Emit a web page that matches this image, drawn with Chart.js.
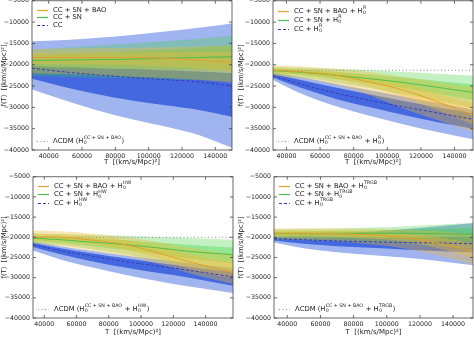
<!DOCTYPE html>
<html>
<head>
<meta charset="utf-8">
<script src="https://cdn.jsdelivr.net/npm/chart.js@4.4.1/dist/chart.umd.min.js"></script>
<style>
    html, body { margin: 0; padding: 0; background: #fff; overflow: hidden; }
    body { width: 474px; height: 340px; position: relative; }
    canvas { position: absolute; }
</style>
</head>
<body>
<canvas id="p1" width="236" height="174" style="left:0;top:-6px"></canvas>
<canvas id="p2" width="237" height="174" style="left:237px;top:-6px"></canvas>
<canvas id="p3" width="236" height="170" style="left:0;top:170px"></canvas>
<canvas id="p4" width="237" height="170" style="left:237px;top:170px"></canvas>
<script>
// ---- axis ticks ----
const yTicks = [-5000, -10000, -15000, -20000, -25000, -30000, -35000, -40000];
const xTicks = [40000, 60000, 80000, 100000, 120000, 140000];

// ---- T grid for each panel (first/last = axis limits) ----
const T1 = [30000, 50000, 70000, 90000, 110000, 130000, 150000];
const T2 = [32000, 50000, 70000, 90000, 110000, 130000, 151000];
const T3 = [33000, 50000, 70000, 90000, 110000, 130000, 157000];
const T4 = [32000, 50000, 70000, 90000, 110000, 130000, 152000];

// ---- panel 1: CC, CC + SN, CC + SN + BAO ----
const cc1Mean = [-20800, -21700, -22400, -23000, -23500, -24000, -25000];
const cc1Hi1  = [-20300, -20500, -20800, -21000, -21300, -21600, -22000];
const cc1Lo1  = [-23300, -25300, -27000, -28400, -29500, -30600, -32200];
const cc1Hi2  = [-14500, -14200, -13700, -13000, -12200, -11300, -10300];
const cc1Lo2  = [-25800, -28400, -30800, -32800, -34500, -36500, -39500];
const sn1Mean = [-19000, -18900, -18800, -18700, -18500, -18300, -18100];
const sn1Hi1  = [-17700, -17400, -17100, -16800, -16400, -16000, -15500];
const sn1Lo1  = [-20700, -20800, -20900, -21000, -21100, -21200, -21300];
const sn1Hi2  = [-16500, -16000, -15500, -15000, -14500, -13900, -13200];
const sn1Lo2  = [-22500, -22800, -23000, -23200, -23400, -23600, -23800];
const bao1Mean = [-18300, -18300, -18300, -18300, -18500, -18900, -19500];
const bao1Hi1  = [-17300, -17200, -17100, -17100, -17000, -17000, -17000];
const bao1Lo1  = [-19800, -19900, -20000, -20200, -20500, -20900, -21500];
const bao1Hi2  = [-16300, -16200, -16100, -16000, -15900, -15700, -15500];
const bao1Lo2  = [-22000, -22200, -22500, -22800, -23100, -23500, -24200];
const lcdm1 = -18300;

// ---- panel 2: + H0^R ----
const cc2Mean = [-22600, -24700, -26700, -28400, -29900, -31300, -32800];
const cc2Hi1  = [-22200, -23700, -25400, -27000, -28500, -30000, -31400];
const cc2Lo1  = [-23000, -25600, -28100, -30000, -31800, -33500, -35000];
const cc2Hi2  = [-21800, -23000, -24500, -26000, -27500, -29000, -30500];
const cc2Lo2  = [-23600, -27000, -29800, -32000, -34000, -35800, -37500];
const sn2Mean = [-21400, -21800, -22500, -23300, -24200, -25300, -26500];
const sn2Hi1  = [-20900, -21200, -21700, -22300, -23000, -23800, -24600];
const sn2Lo1  = [-21900, -22400, -23400, -24400, -25500, -26800, -28300];
const sn2Hi2  = [-20500, -20700, -21000, -21300, -21700, -22100, -22600];
const sn2Lo2  = [-22300, -23000, -24200, -25500, -27000, -28500, -30200];
const bao2Mean = [-21300, -21700, -22500, -24100, -26000, -28700, -31800];
const bao2Hi1  = [-20800, -21100, -21700, -22900, -24500, -26700, -29000];
const bao2Lo1  = [-21900, -22300, -23400, -25300, -27600, -30700, -34000];
const bao2Hi2  = [-20200, -20400, -21000, -21700, -22900, -24100, -25200];
const bao2Lo2  = [-22500, -23300, -24800, -27200, -30300, -33000, -35700];
const lcdm2 = -21300;

// ---- panel 3: + H0^HW ----
const cc3Mean = [-21800, -23300, -24700, -26000, -27100, -28200, -29800];
const cc3Hi1  = [-21400, -22700, -24000, -25200, -26300, -27300, -28600];
const cc3Lo1  = [-22400, -24200, -26000, -27500, -28800, -30000, -32000];
const cc3Hi2  = [-21000, -22200, -23400, -24500, -25500, -26400, -27600];
const cc3Lo2  = [-23300, -25500, -27500, -29300, -30800, -32200, -33800];
const sn3Mean = [-20200, -20600, -21200, -21800, -22600, -23500, -24300];
const sn3Hi1  = [-19600, -19900, -20300, -20700, -21300, -21900, -22500];
const sn3Lo1  = [-20900, -21400, -22200, -23100, -24200, -25300, -26400];
const sn3Hi2  = [-19000, -19200, -19400, -19600, -19900, -20200, -20600];
const sn3Lo2  = [-21500, -22000, -23000, -24200, -25700, -27200, -28700];
const bao3Mean = [-19900, -20000, -20700, -21800, -23800, -26100, -28700];
const bao3Hi1  = [-19200, -19300, -19800, -20700, -22300, -24300, -26300];
const bao3Lo1  = [-20700, -20900, -21700, -23000, -25200, -27900, -30200];
const bao3Hi2  = [-18300, -18500, -19100, -19900, -21100, -22600, -24200];
const bao3Lo2  = [-21400, -22200, -23400, -24600, -26500, -28900, -31600];
const lcdm3 = -20000;

// ---- panel 4: + H0^TRGB ----
const cc4Mean = [-20300, -20600, -20900, -21100, -21300, -21400, -21600];
const cc4Hi1  = [-20000, -20000, -20000, -20000, -20000, -19900, -19800];
const cc4Lo1  = [-20800, -21600, -22200, -22600, -23000, -23400, -23700];
const cc4Hi2  = [-19600, -19300, -19000, -18600, -18000, -17300, -16500];
const cc4Lo2  = [-21300, -22700, -23700, -24400, -25000, -25800, -26900];
const sn4Mean = [-19100, -19100, -19000, -19000, -19000, -19100, -19300];
const sn4Hi1  = [-18600, -18500, -18400, -18300, -18100, -17900, -17700];
const sn4Lo1  = [-19800, -19900, -20100, -20300, -20500, -20800, -21100];
const sn4Hi2  = [-18000, -17900, -17800, -17600, -17300, -16900, -16400];
const sn4Lo2  = [-20500, -20700, -21000, -21300, -21600, -22100, -22700];
const bao4Mean = [-19000, -19000, -19100, -19400, -20000, -21400, -23400];
const bao4Hi1  = [-18400, -18400, -18500, -18700, -19100, -20000, -21500];
const bao4Lo1  = [-19600, -19700, -19900, -20300, -21000, -22600, -25000];
const bao4Hi2  = [-17800, -17800, -17800, -17900, -18100, -18500, -19200];
const bao4Lo2  = [-20400, -20600, -21000, -21700, -22700, -24400, -26800];
const lcdm4 = -19000;

// ---- legend labels (H_0^{x} is drawn as H with sub 0 and sup x) ----
const labels1 = ['CC + SN + BAO', 'CC + SN', 'CC'];
const labels2 = ['CC + SN + BAO + H_0^{R}', 'CC + SN + H_0^{R}', 'CC + H_0^{R}'];
const labels3 = ['CC + SN + BAO + H_0^{HW}', 'CC + SN + H_0^{HW}', 'CC + H_0^{HW}'];
const labels4 = ['CC + SN + BAO + H_0^{TRGB}', 'CC + SN + H_0^{TRGB}', 'CC + H_0^{TRGB}'];
const lcdmLabel1 = 'ΛCDM (H_0^{CC + SN + BAO})';
const lcdmLabel2 = 'ΛCDM (H_0^{CC + SN + BAO} + H_0^{R})';
const lcdmLabel3 = 'ΛCDM (H_0^{CC + SN + BAO} + H_0^{HW})';
const lcdmLabel4 = 'ΛCDM (H_0^{CC + SN + BAO} + H_0^{TRGB})';

const FONT = '"DejaVu Sans", sans-serif';

const styles = {
    bao: { line: '#e0a02a', dash: [], fill2: 'rgba(240,185,50,0.36)', fill1: 'rgba(240,185,50,0.36)' },
    sn:  { line: '#4cc04c', dash: [], fill2: 'rgba(60,210,60,0.3)', fill1: 'rgba(60,210,60,0.38)' },
    cc:  { line: '#3a3ab8', dash: [3, 2], fill2: 'rgba(65,105,225,0.5)', fill1: 'rgba(50,90,220,0.85)' },
    lcdm: { line: '#8c8c8c', dash: [1, 2.5] }
};

function pts(T, vals) {
    return vals.map((v, i) => ({ x: T[i], y: v }));
}

function edge(T, vals, order, fill, color) {
    return {
        data: pts(T, vals), order,
        borderWidth: 0, pointRadius: 0,
        cubicInterpolationMode: 'monotone',
        fill: fill, backgroundColor: color || 'transparent'
    };
}

function line(T, vals, st, width) {
    return {
        data: pts(T, vals), order: 0,
        borderColor: st.line, borderDash: st.dash, borderWidth: width || 1,
        pointRadius: 0, cubicInterpolationMode: 'monotone', fill: false
    };
}

// bands: 1 sigma pushed before 2 sigma so it draws on top
function bandsFor(T, m, st, order) {
    return [
        edge(T, m.lo1, order, false),
        edge(T, m.hi1, order, '-1', st.fill1),
        edge(T, m.lo2, order, false),
        edge(T, m.hi2, order, '-1', st.fill2)
    ];
}

function drawRich(ctx, text, x, y, size) {
    const parts = text.split(/_0\^\{([^}]*)\}/);
    parts.forEach((p, i) => {
        if (i % 2 === 0) {
            ctx.font = size + 'px ' + FONT;
            ctx.fillText(p, x, y);
            x += ctx.measureText(p).width;
        } else {
            const s = size * 0.7;
            ctx.font = s + 'px ' + FONT;
            ctx.fillText('0', x + 0.3, y + size * 0.32);
            ctx.fillText(p, x + 0.3, y - size * 0.42);
            x += Math.max(ctx.measureText('0').width, ctx.measureText(p).width) + 0.8;
        }
    });
}

function sample(ctx, x0, x1, y, st) {
    ctx.save();
    ctx.strokeStyle = st.line;
    ctx.lineWidth = 1.2;
    ctx.setLineDash(st.dash);
    ctx.beginPath();
    ctx.moveTo(x0, Math.round(y) + 0.5);
    ctx.lineTo(x1, Math.round(y) + 0.5);
    ctx.stroke();
    ctx.restore();
}

// frame, inward ticks on all sides, and the two legends
const framePlugin = {
    id: 'frame',
    afterDraw(chart, args, opts) {
        const { ctx, chartArea: a, scales: { x, y } } = chart;
        ctx.save();
        ctx.strokeStyle = '#444';
        ctx.lineWidth = 0.8;
        ctx.strokeRect(a.left, a.top, a.right - a.left, a.bottom - a.top);
        ctx.beginPath();
        x.ticks.forEach(t => {
            const px = x.getPixelForValue(t.value);
            ctx.moveTo(px, a.bottom); ctx.lineTo(px, a.bottom - 3);
            ctx.moveTo(px, a.top); ctx.lineTo(px, a.top + 3);
        });
        y.ticks.forEach(t => {
            const py = y.getPixelForValue(t.value);
            ctx.moveTo(a.left, py); ctx.lineTo(a.left + 3, py);
            ctx.moveTo(a.right, py); ctx.lineTo(a.right - 3, py);
        });
        ctx.stroke();

        ctx.fillStyle = '#222';
        ctx.textBaseline = 'middle';
        const order = [styles.bao, styles.sn, styles.cc];
        opts.labels.forEach((lab, i) => {
            const yy = a.top + opts.rowTop + i * opts.rowGap;
            sample(ctx, a.left + 5, a.left + 16, yy, order[i]);
            drawRich(ctx, lab, a.left + 21, yy, 6.8);
        });
        const yb = a.bottom - 9;
        sample(ctx, a.left + 5, a.left + 16, yb, styles.lcdm);
        drawRich(ctx, opts.lcdmLabel, a.left + 21, yb, 6.8);
        ctx.restore();
    }
};

function makePanel(id, cfg) {
    const T = cfg.T;
    const datasets = [
        line(T, cfg.bao.mean, styles.bao),
        line(T, cfg.sn.mean, styles.sn),
        line(T, cfg.cc.mean, styles.cc),
        line([T[0], T[T.length - 1]], [cfg.lcdm, cfg.lcdm], styles.lcdm),
        ...bandsFor(T, cfg.bao, styles.bao, 1),
        ...bandsFor(T, cfg.sn, styles.sn, 2),
        ...bandsFor(T, cfg.cc, styles.cc, 3)
    ];

    return new Chart(document.getElementById(id), {
        type: 'line',
        data: { datasets },
        options: {
            responsive: false,
            animation: false,
            events: [],
            layout: { padding: { top: 6, right: cfg.padRight, left: 0, bottom: 0 } },
            plugins: {
                legend: { display: false },
                tooltip: { enabled: false },
                frame: { labels: cfg.labels, lcdmLabel: cfg.lcdmLabel, rowTop: cfg.rowTop, rowGap: cfg.rowGap }
            },
            scales: {
                x: {
                    type: 'linear',
                    min: T[0], max: T[T.length - 1],
                    afterBuildTicks: s => { s.ticks = xTicks.map(v => ({ value: v })); },
                    afterFit: s => { s.height = cfg.xHeight; },
                    grid: { display: false, drawTicks: false },
                    border: { display: false },
                    ticks: { color: '#222', padding: 3, font: { family: FONT, size: 6.3 }, maxRotation: 0, callback: v => String(v) },
                    title: { display: true, text: 'T  [(km/s/Mpc)²]', color: '#222', padding: { top: 0, bottom: cfg.titlePad }, font: { family: FONT, size: 7 } }
                },
                y: {
                    type: 'linear',
                    min: -40000, max: -5000,
                    afterBuildTicks: s => { s.ticks = yTicks.map(v => ({ value: v })); },
                    afterFit: s => { s.width = cfg.yWidth; },
                    grid: { display: false, drawTicks: false },
                    border: { display: false },
                    ticks: { color: '#222', padding: 3, font: { family: FONT, size: 6.3 }, callback: v => String(v).replace('-', '\u2212') },
                    title: { display: true, text: 'f(T)  [(km/s/Mpc)²]', color: '#222', padding: { top: 0, bottom: 0 }, font: { family: FONT, size: 6.8 } }
                }
            }
        },
        plugins: [framePlugin]
    });
}

function model(mean, lo1, hi1, lo2, hi2) {
    return { mean, lo1, hi1, lo2, hi2 };
}

makePanel('p1', {
    T: T1, yWidth: 32, xHeight: 18, titlePad: 2, padRight: 4, rowTop: 9, rowGap: 7.7,
    labels: labels1, lcdmLabel: lcdmLabel1, lcdm: lcdm1,
    cc: model(cc1Mean, cc1Lo1, cc1Hi1, cc1Lo2, cc1Hi2),
    sn: model(sn1Mean, sn1Lo1, sn1Hi1, sn1Lo2, sn1Hi2),
    bao: model(bao1Mean, bao1Lo1, bao1Hi1, bao1Lo2, bao1Hi2)
});
makePanel('p2', {
    T: T2, yWidth: 36, xHeight: 18, titlePad: 2, padRight: 1, rowTop: 10, rowGap: 9,
    labels: labels2, lcdmLabel: lcdmLabel2, lcdm: lcdm2,
    cc: model(cc2Mean, cc2Lo1, cc2Hi1, cc2Lo2, cc2Hi2),
    sn: model(sn2Mean, sn2Lo1, sn2Hi1, sn2Lo2, sn2Hi2),
    bao: model(bao2Mean, bao2Lo1, bao2Hi1, bao2Lo2, bao2Hi2)
});
makePanel('p3', {
    T: T3, yWidth: 33, xHeight: 22, titlePad: 4, padRight: 3, rowTop: 9, rowGap: 8.5,
    labels: labels3, lcdmLabel: lcdmLabel3, lcdm: lcdm3,
    cc: model(cc3Mean, cc3Lo1, cc3Hi1, cc3Lo2, cc3Hi2),
    sn: model(sn3Mean, sn3Lo1, sn3Hi1, sn3Lo2, sn3Hi2),
    bao: model(bao3Mean, bao3Lo1, bao3Hi1, bao3Lo2, bao3Hi2)
});
makePanel('p4', {
    T: T4, yWidth: 37, xHeight: 22, titlePad: 4, padRight: 1, rowTop: 9, rowGap: 8.5,
    labels: labels4, lcdmLabel: lcdmLabel4, lcdm: lcdm4,
    cc: model(cc4Mean, cc4Lo1, cc4Hi1, cc4Lo2, cc4Hi2),
    sn: model(sn4Mean, sn4Lo1, sn4Hi1, sn4Lo2, sn4Hi2),
    bao: model(bao4Mean, bao4Lo1, bao4Hi1, bao4Lo2, bao4Hi2)
});
</script>
</body>
</html>
